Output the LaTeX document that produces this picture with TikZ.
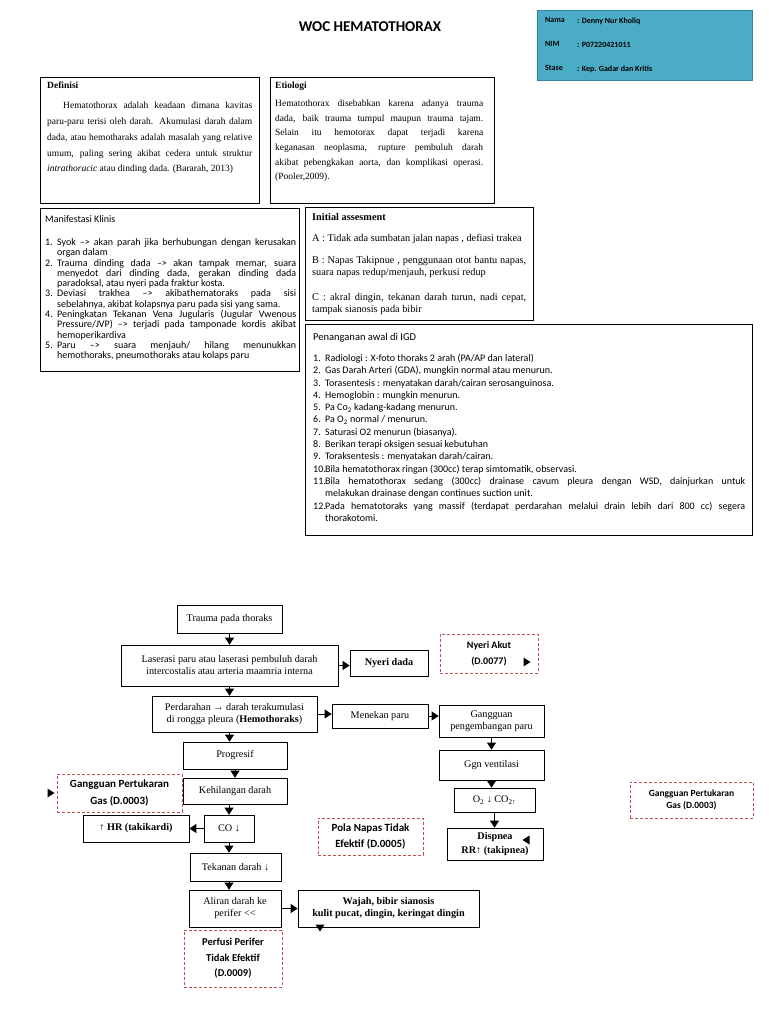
\documentclass[tikz,border=0pt]{standalone}
\usepackage{fontspec}
\setmainfont{Liberation Serif}
\setsansfont{Carlito}
\usetikzlibrary{arrows.meta}

\definecolor{tealbox}{HTML}{4BACC6}
\definecolor{tealedge}{HTML}{31859C}
\definecolor{dashred}{HTML}{C0504D}

% rows of the numbered lists: justified (width given) or plain
\newcommand{\jrow}[3]{\makebox[12pt][l]{#1}\makebox[#2][s]{#3}}
\newcommand{\lrow}[2]{\makebox[12pt][l]{#1}#2}

\begin{document}
\begin{tikzpicture}[x=1pt, y=-1pt,
  boxframe/.style={draw, line width=0.8pt, anchor=north west, inner sep=0pt},
  txtblock/.style={anchor=north west, inner sep=0pt, align=left},
  flowbox/.style={draw, line width=0.7pt, align=center, inner sep=1pt, font=\fontsize{10.2}{12}\selectfont},
  diagbox/.style={draw=dashred, line width=0.7pt, dash pattern=on 3pt off 2pt, align=center, inner sep=1pt, font=\sffamily\bfseries\fontsize{10}{16}\selectfont},
  flowarrow/.style={line width=0.8pt, -{Triangle[length=7pt, width=9pt]}},
  tipmark/.pic={\fill (3.5,0) -- (-3.5,4.5) -- (-3.5,-4.5) -- cycle;}
]
\useasboundingbox (0,0) rectangle (768,1024);

% header
\node [font=\sffamily\bfseries\fontsize{15}{18}\selectfont] (title) at (370,27) {WOC HEMATOTHORAX};
\node [boxframe, fill=tealbox, draw=tealedge, minimum width=215pt, minimum height=70pt] (id) at (537,10) {};
\node [txtblock, font=\sffamily\bfseries\fontsize{8}{24}\selectfont] (idkey) at (545,17.5) {Nama\\NIM\\Stase};
\node [txtblock, font=\sffamily\bfseries\fontsize{8}{24}\selectfont] (idval) at (577,17.5) {: Denny Nur Kholiq\\: P07220421011\\: Kep. Gadar dan Kritis};

% Definisi
\node [boxframe, minimum width=219pt, minimum height=126pt] (def) at (40,77) {};
\node [txtblock, font=\fontsize{9.5}{15.8}\selectfont] (deftxt) at (47,82) {%
  \textbf{Definisi}\\[4pt]
  \makebox[205pt][s]{\hspace*{16pt}Hematothorax adalah keadaan dimana kavitas}\\
  \makebox[205pt][s]{paru-paru terisi oleh darah. Akumulasi darah dalam}\\
  \makebox[205pt][s]{dada, atau hemotharaks adalah masalah yang relative}\\
  \makebox[205pt][s]{umum, paling sering akibat cedera untuk struktur}\\
  \textit{intrathoracic} atau dinding dada. (Bararah, 2013)};

% Etiologi
\node [boxframe, minimum width=224pt, minimum height=126pt] (eti) at (270,77) {};
\node [txtblock, font=\fontsize{9.5}{14.6}\selectfont] (etitxt) at (275,82) {%
  \textbf{Etiologi}\\[3.4pt]
  \makebox[208pt][s]{Hematothorax disebabkan karena adanya trauma}\\
  \makebox[208pt][s]{dada, baik trauma tumpul maupun trauma tajam.}\\
  \makebox[208pt][s]{Selain itu hemotorax dapat terjadi karena}\\
  \makebox[208pt][s]{keganasan neoplasma, rupture pembuluh darah}\\
  \makebox[208pt][s]{akibat pebengkakan aorta, dan komplikasi operasi.}\\
  (Pooler,2009).};

% Manifestasi Klinis
\node [boxframe, minimum width=259pt, minimum height=163pt] (manif) at (40,208) {};
\node [txtblock, font=\sffamily\fontsize{10}{10.3}\selectfont] (maniftxt) at (45,215.5) {%
  {\fontsize{10}{10.3}\selectfont Manifestasi Klinis}\\[12.5pt]
  \jrow{1.}{239pt}{Syok –> akan parah jika berhubungan dengan kerusakan}\\
  \lrow{}{organ dalam}\\
  \jrow{2.}{239pt}{Trauma dinding dada –> akan tampak memar, suara}\\
  \jrow{}{239pt}{menyedot dari dinding dada, gerakan dinding dada}\\
  \lrow{}{paradoksal, atau nyeri pada fraktur kosta.}\\
  \jrow{3.}{239pt}{Deviasi trakhea –> akibathematoraks pada sisi}\\
  \lrow{}{sebelahnya, akibat kolapsnya paru pada sisi yang sama.}\\
  \jrow{4.}{239pt}{Peningkatan Tekanan Vena Jugularis (Jugular Vwenous}\\
  \jrow{}{239pt}{Pressure/JVP) –> terjadi pada tamponade kordis akibat}\\
  \lrow{}{hemoperikardiva}\\
  \jrow{5.}{239pt}{Paru –> suara menjauh/ hilang menunukkan}\\
  \lrow{}{hemothoraks, pneumothoraks atau kolaps paru}};

% Initial assesment
\node [boxframe, minimum width=228pt, minimum height=113pt] (init) at (305,207) {};
\node [txtblock, font=\fontsize{10.3}{12}\selectfont] (inittxt) at (312,213) {%
  \textbf{Initial assesment}\\[9pt]
  A : Tidak ada sumbatan jalan napas , defiasi trakea\\[10pt]
  \makebox[214pt][s]{B : Napas Takipnue , penggunaan otot bantu napas,}\\
  suara napas redup/menjauh, perkusi redup\\[13pt]
  \makebox[214pt][s]{C : akral dingin, tekanan darah turun, nadi cepat,}\\
  tampak sianosis pada bibir};

% Penanganan awal di IGD
\node [boxframe, minimum width=447pt, minimum height=211pt] (igd) at (305,324) {};
\node [txtblock, font=\sffamily\fontsize{10}{12.3}\selectfont] (igdtxt) at (313,333) {%
  {\fontsize{10.5}{12.3}\selectfont Penanganan awal di IGD}\\[8.7pt]
  \lrow{1.}{Radiologi : X-foto thoraks 2 arah (PA/AP dan lateral)}\\
  \lrow{2.}{Gas Darah Arteri (GDA), mungkin normal atau menurun.}\\
  \lrow{3.}{Torasentesis : menyatakan darah/cairan serosanguinosa.}\\
  \lrow{4.}{Hemoglobin : mungkin menurun.}\\
  \lrow{5.}{Pa Co\textsubscript{2} kadang-kadang menurun.}\\
  \lrow{6.}{Pa O\textsubscript{2} normal / menurun.}\\
  \lrow{7.}{Saturasi O2 menurun (biasanya).}\\
  \lrow{8.}{Berikan terapi oksigen sesuai kebutuhan}\\
  \lrow{9.}{Toraksentesis : menyatakan darah/cairan.}\\
  \lrow{10.}{Bila hematothorax ringan (300cc) terap simtomatik, observasi.}\\
  \jrow{11.}{420pt}{Bila hematothorax sedang (300cc) drainase cavum pleura dengan WSD, dainjurkan untuk}\\
  \lrow{}{melakukan drainase dengan continues suction unit.}\\
  \jrow{12.}{420pt}{Pada hematotoraks yang massif (terdapat perdarahan melalui drain lebih dari 800 cc) segera}\\
  \lrow{}{thorakotomi.}};

% flow chart
\node [flowbox, minimum width=105pt, minimum height=28pt] (trauma) at (229.5,619) {Trauma pada thoraks};
\node [flowbox, minimum width=217pt, minimum height=41pt] (laserasi) at (229.5,665.5) {Laserasi paru atau laserasi pembuluh darah\\intercostalis atau arteria maamria interna};
\node [flowbox, minimum width=165pt, minimum height=36pt] (perdarahan) at (234.5,714) {Perdarahan → darah terakumulasi\\di rongga pleura (\textbf{Hemothoraks})};
\node [flowbox, minimum width=78pt, minimum height=26pt, font=\bfseries\fontsize{10.2}{12}\selectfont] (nyeri) at (389,663) {Nyeri dada};
\node [diagbox, minimum width=98pt, minimum height=39pt] (akut) at (489,653.5) {Nyeri Akut\\(D.0077)};
\node [flowbox, minimum width=96pt, minimum height=24pt] (menekan) at (380,716) {Menekan paru};
\node [flowbox, minimum width=105pt, minimum height=32pt] (kembang) at (491.5,721) {Gangguan\\pengembangan paru};
\node [flowbox, minimum width=105pt, minimum height=30pt] (ventilasi) at (491.5,765) {Ggn ventilasi};
\node [flowbox, minimum width=81pt, minimum height=24pt] (gas) at (494.5,800) {O\textsubscript{2} ↓ CO\textsubscript{2↑}};
\node [flowbox, minimum width=96pt, minimum height=32pt, font=\bfseries\fontsize{10.2}{14}\selectfont] (dispnea) at (495,844) {Dispnea\hspace{16pt}\\RR↑ (takipnea)};
\node [diagbox, minimum width=105pt, minimum height=37pt, font=\sffamily\bfseries\fontsize{11}{16}\selectfont] (pola) at (370.5,836.5) {Pola Napas Tidak\\Efektif (D.0005)};

\node [flowbox, minimum width=104pt, minimum height=27pt] (progresif) at (235,755.5) {Progresif};
\node [flowbox, minimum width=104pt, minimum height=26pt] (hilang) at (235,791) {Kehilangan darah};
\node [flowbox, minimum width=50pt, minimum height=27pt] (co) at (229,828.5) {CO ↓};
\node [flowbox, minimum width=106pt, minimum height=27pt, font=\bfseries\fontsize{10.2}{12}\selectfont] (hr) at (136,828.5) {↑ HR (takikardi)};
\node [diagbox, minimum width=125pt, minimum height=38pt, font=\sffamily\bfseries\fontsize{11}{17}\selectfont] (gpgleft) at (119.5,793) {Gangguan Pertukaran\\Gas (D.0003)};
\node [flowbox, minimum width=91pt, minimum height=28pt] (tekanan) at (235.5,867) {Tekanan darah ↓};
\node [flowbox, minimum width=92pt, minimum height=37pt] (aliran) at (235,908.5) {Aliran darah ke\\perifer <{}<};
\node [flowbox, minimum width=181pt, minimum height=37pt, font=\bfseries\fontsize{10.2}{12}\selectfont] (wajah) at (388.5,908.5) {Wajah, bibir sianosis\\kulit pucat, dingin, keringat dingin};
\node [diagbox, minimum width=98pt, minimum height=57pt, font=\sffamily\bfseries\fontsize{10.5}{15.5}\selectfont] (perfusi) at (233,958.5) {Perfusi Perifer\\Tidak Efektif\\(D.0009)};
\node [diagbox, minimum width=123pt, minimum height=36pt, font=\sffamily\bfseries\fontsize{9.5}{12}\selectfont] (gpgright) at (691.5,800) {Gangguan Pertukaran\\Gas (D.0003)};

\draw [flowarrow] (trauma) -- (laserasi);
\draw [flowarrow] (laserasi.east) -- (laserasi.east -| nyeri.west);
\draw [flowarrow] (laserasi.south) -- (laserasi.south |- perdarahan.north);
\draw [flowarrow] (perdarahan.east) -- (perdarahan.east -| menekan.west);
\draw [flowarrow] (menekan.east) -- (menekan.east -| kembang.west);
\draw [flowarrow] (kembang) -- (ventilasi);
\draw [flowarrow] (ventilasi.south) -- (ventilasi.south |- gas.north);
\draw [flowarrow] (gas.south) -- (gas.south |- dispnea.north);
\draw [flowarrow] (laserasi.south |- perdarahan.south) -- (laserasi.south |- progresif.north);
\draw [flowarrow] (progresif) -- (hilang);
\draw [flowarrow] (hilang.south -| co.north) -- (co.north);
\draw [flowarrow] (co.west) -- (hr.east);
\draw [flowarrow] (co.south) -- (co.south |- tekanan.north);
\draw [flowarrow] (co.south |- tekanan.south) -- (co.south |- aliran.north);
\draw [flowarrow] (aliran.east) -- (aliran.east -| wajah.west);

% loose arrow tips
\pic at (527,662) {tipmark};
\pic at (51,793) {tipmark};
\pic [rotate=180] at (526,840) {tipmark};
\pic [rotate=-90] at (320,928) {tipmark};

\end{tikzpicture}
\end{document}
